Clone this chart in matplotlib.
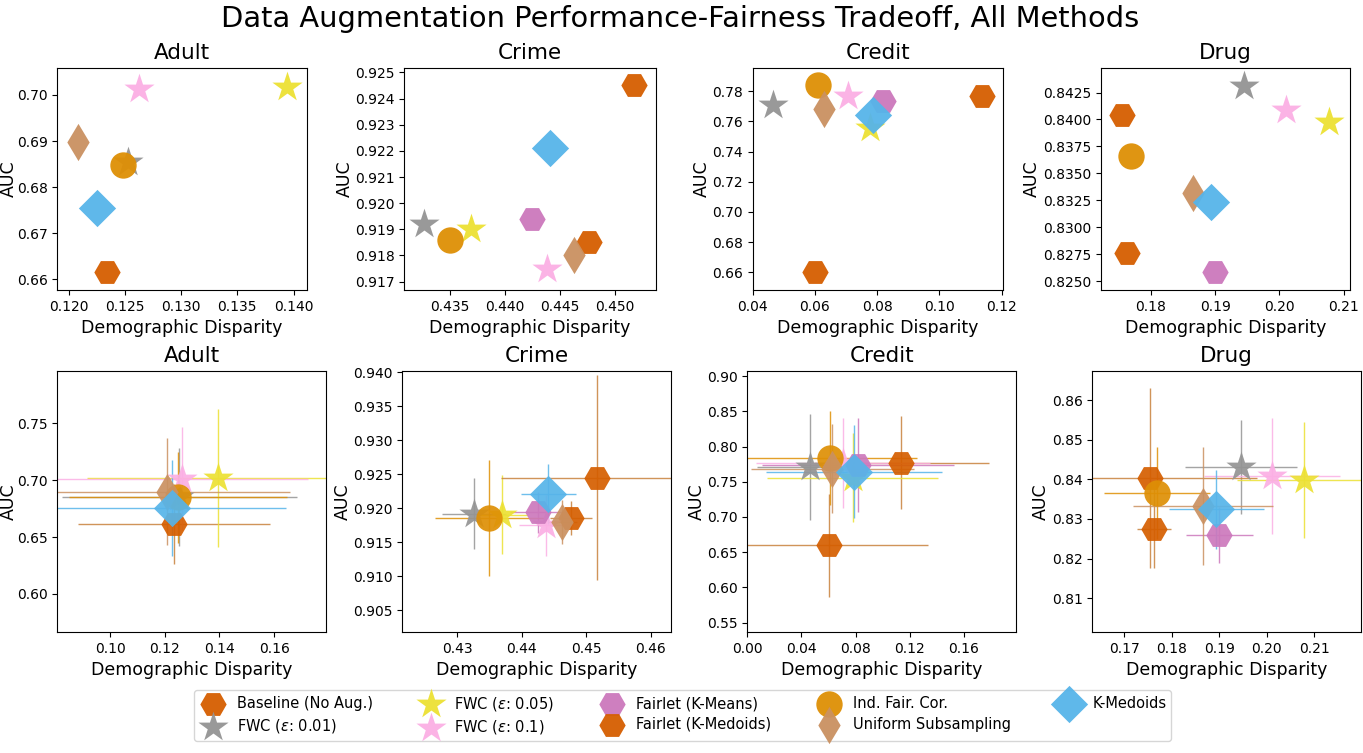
import numpy as np
import matplotlib
matplotlib.use("Agg")
import matplotlib.pyplot as plt
from matplotlib.ticker import MultipleLocator

nan = np.nan

methods = ['Baseline (No Aug.)', r'FWC ($\varepsilon$: 0.01)', r'FWC ($\varepsilon$: 0.05)',
           r'FWC ($\varepsilon$: 0.1)', 'Fairlet (K-Means)', 'Fairlet (K-Medoids)',
           'Ind. Fair. Cor.', 'Uniform Subsampling', 'K-Medoids']

datasets = ['Adult', 'Crime', 'Credit', 'Drug']

# mean demographic disparity / AUC per method (order as in `methods`)
adult_dd = [0.1234, 0.1253, 0.1394, 0.1263, nan, nan, 0.1248, 0.1208, 0.1225]
adult_auc = [0.6617, 0.6855, 0.7018, 0.7012, nan, nan, 0.6847, 0.6897, 0.6754]
adult_dd_err = [0.035, 0.043, 0.048, 0.046, nan, nan, 0.040, 0.045, 0.042]
adult_auc_err = [0.035, 0.043, 0.061, 0.045, nan, nan, 0.040, 0.047, 0.042]

crime_dd = [0.4476, 0.4326, 0.4369, 0.4438, 0.4425, 0.4517, 0.4350, 0.4463, 0.4441]
crime_auc = [0.9185, 0.9192, 0.9190, 0.9175, 0.9194, 0.9245, 0.9186, 0.9180, 0.9221]
crime_dd_err = [0.0033, 0.0050, 0.0040, 0.0042, 0.0043, 0.0149, 0.0085, 0.0022, 0.0043]
crime_auc_err = [0.0025, 0.0052, 0.0058, 0.0045, 0.0030, 0.0150, 0.0085, 0.0032, 0.0044]

credit_dd = [0.1138, 0.0464, 0.0777, 0.0707, 0.0820, 0.0600, 0.0611, 0.0629, 0.0786]
credit_auc = [0.7767, 0.7711, 0.7557, 0.7767, 0.7734, 0.6600, 0.7840, 0.7683, 0.7645]
credit_dd_err = [0.0646, 0.039, 0.063, 0.064, 0.0708, 0.0737, 0.064, 0.060, 0.065]
credit_auc_err = [0.066, 0.075, 0.063, 0.064, 0.067, 0.073, 0.067, 0.063, 0.066]

drug_dd = [0.1763, 0.1945, 0.2078, 0.2010, 0.1900, 0.1755, 0.1769, 0.1866, 0.1894]
drug_auc = [0.8276, 0.8431, 0.8398, 0.8409, 0.8259, 0.8404, 0.8366, 0.8332, 0.8324]
drug_dd_err = [0.0036, 0.0118, 0.014, 0.0143, 0.007, 0.0224, 0.0112, 0.0148, 0.010]
drug_auc_err = [0.0100, 0.0118, 0.0146, 0.0146, 0.007, 0.0227, 0.0116, 0.0149, 0.010]

all_dd = [adult_dd, crime_dd, credit_dd, drug_dd]
all_auc = [adult_auc, crime_auc, credit_auc, drug_auc]
all_dd_err = [adult_dd_err, crime_dd_err, credit_dd_err, drug_dd_err]
all_auc_err = [adult_auc_err, crime_auc_err, credit_auc_err, drug_auc_err]

# styling
colors = ['#d55e00', '#949494', '#ece133', '#fbafe4', '#cc78bc',
          '#d55e00', '#de8f05', '#ca9161', '#56b4e9']
err_colors = ['#c8823c', '#949494', '#ece133', '#fbafe4', '#cc78bc',
              '#c8823c', '#de8f05', '#ca9161', '#56b4e9']
markers = ['H', '*', '*', '*', 'H', 'H', 'o', 'd', 'D']
sizes = [360, 520, 520, 520, 360, 360, 360, 360, 360]

top_lims = [((0.1190, 0.1412), (0.6577, 0.7059)),
            ((0.43085, 0.4537), (0.91668, 0.92518)),
            ((0.040, 0.1205), (0.6483, 0.7955)),
            ((0.1722, 0.2110), (0.8242, 0.8448))]
bot_lims = [((0.0807, 0.179), (0.5666, 0.796)),
            ((0.4215, 0.4631), (0.9018, 0.9402)),
            ((0.0, 0.1984), (0.5368, 0.9076)),
            ((0.1633, 0.2198), (0.8015, 0.8674))]
top_ticks = [(0.005, 0.01), (0.005, 0.001), (0.02, 0.02), (0.01, 0.0025)]
bot_ticks = [(0.02, 0.05), (0.01, 0.005), (0.04, 0.05), (0.01, 0.01)]

W, H = 1363, 753
fig = plt.figure(figsize=(W / 100, H / 100), dpi=100)
fig.suptitle('Data Augmentation Performance-Fairness Tradeoff, All Methods',
             fontsize=20.8, x=0.499, y=0.993)

top_left = [57.3, 404.3, 752.7, 1100.7]
top_w = [249.7, 251.4, 250.6, 249.3]
bot_left = [57.3, 402.3, 747.3, 1092.3]
bot_w = 268.7

handles = None
for i, name in enumerate(datasets):
    ax_t = fig.add_axes([top_left[i] / W, 1 - 290 / H, top_w[i] / W, 222.3 / H])
    ax_b = fig.add_axes([bot_left[i] / W, 1 - 632 / H, bot_w / W, 261.3 / H])

    hs = []
    for j, m in enumerate(methods):
        x, y = all_dd[i][j], all_auc[i][j]
        h = ax_t.scatter(x, y, s=sizes[j], marker=markers[j], color=colors[j],
                         alpha=0.95, linewidths=0, label=m, zorder=2)
        hs.append(h)
        ax_b.errorbar(x, y, xerr=all_dd_err[i][j], yerr=all_auc_err[i][j],
                      fmt='none', ecolor=err_colors[j], elinewidth=1.0,
                      alpha=0.85, zorder=1)
        ax_b.scatter(x, y, s=sizes[j], marker=markers[j], color=colors[j],
                     alpha=0.92, linewidths=0, zorder=2)
    if name == 'Crime':
        handles = hs

    for ax, lims, tk in [(ax_t, top_lims[i], top_ticks[i]),
                         (ax_b, bot_lims[i], bot_ticks[i])]:
        ax.set_xlim(*lims[0])
        ax.set_ylim(*lims[1])
        ax.xaxis.set_major_locator(MultipleLocator(tk[0]))
        ax.yaxis.set_major_locator(MultipleLocator(tk[1]))
        ax.set_title(name, fontsize=15.5)
        ax.set_xlabel('Demographic Disparity', fontsize=12.5)
        ax.set_ylabel('AUC', fontsize=12.5, labelpad=1)
        ax.tick_params(labelsize=10)

    # keep the leftmost "AUC" labels inside the canvas
    if i == 0:
        ax_t.yaxis.set_label_coords((18 - 57.3) / top_w[0], 0.5)
        ax_b.yaxis.set_label_coords((18 - 57.3) / bot_w, 0.5)

fig.legend(handles=handles, labels=methods, loc='center',
           bbox_to_anchor=(0.5007, 0.0498), ncol=5, fontsize=10.5,
           scatterpoints=1, columnspacing=3.0, handletextpad=0.6,
           labelspacing=0.4, borderpad=0.3)

fig.savefig('out.png', dpi=100)
